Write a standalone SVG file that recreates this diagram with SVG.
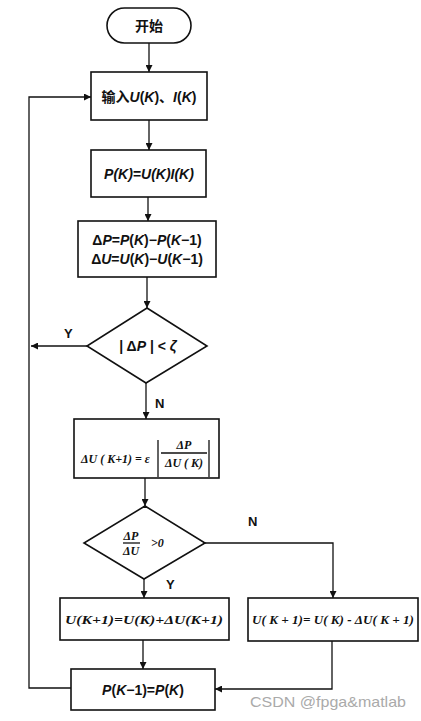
<svg xmlns="http://www.w3.org/2000/svg" width="421" height="721" viewBox="0 0 421 721">
<defs>
<marker id="ah" viewBox="0 0 10 10" refX="10" refY="5" markerWidth="7" markerHeight="7" markerUnits="userSpaceOnUse" orient="auto">
<path d="M0,0 L10,5 L0,10 z" fill="#111"/>
</marker>
</defs>
<style>
.box{fill:#fff;stroke:#111;stroke-width:1.6}
.ln{fill:none;stroke:#111;stroke-width:1.3}
.arr{fill:none;stroke:#111;stroke-width:1.3;marker-end:url(#ah)}
.t{font-family:"Liberation Sans","Noto Sans CJK SC",sans-serif;font-weight:bold;font-size:14px;fill:#111;text-anchor:middle}
.ti{font-style:italic}
.m{font-family:"Liberation Serif","Noto Sans CJK SC",serif;font-weight:bold;font-style:italic;font-size:12px;fill:#111}
.lbl{font-family:"Liberation Sans",sans-serif;font-weight:bold;font-size:13px;fill:#111}
</style>
<rect width="421" height="721" fill="#fff"/>
<g id="connectors">
<path class="arr" d="M149,43 V72"/>
<path class="arr" d="M149,120 V150"/>
<path class="arr" d="M148,197 V221"/>
<path class="arr" d="M147,277 V308"/>
<path class="arr" d="M87,346 H31"/>
<path class="arr" d="M146,383 V419"/>
<path class="arr" d="M145,478 V506"/>
<path class="arr" d="M205,543 H333 V598"/>
<path class="arr" d="M144,579 V598"/>
<path class="arr" d="M143,640 V669"/>
<path class="arr" d="M332,641 V689 H215"/>
<path class="arr" d="M71,688 H29 V97 H91"/>
<text class="lbl" x="64" y="338">Y</text>
<text class="lbl" x="155" y="408">N</text>
<text class="lbl" x="248" y="526">N</text>
<text class="lbl" x="166" y="589">Y</text>
</g>
<g id="start">
<rect class="box" x="107" y="8" width="84" height="35" rx="17.5"/>
<text class="t" x="149" y="31">开始</text>
</g>
<g id="input">
<rect class="box" x="91" y="72" width="116" height="48"/>
<text class="t" x="149" y="102">输入<tspan class="ti">U</tspan>(<tspan class="ti">K</tspan>)、<tspan class="ti">I</tspan>(<tspan class="ti">K</tspan>)</text>
</g>
<g id="power">
<rect class="box" x="91" y="150" width="115" height="47"/>
<text class="t ti" x="149" y="179">P(K)=U(K)I(K)</text>
</g>
<g id="delta">
<rect class="box" x="78" y="221" width="138" height="56"/>
<text class="t" x="147" y="245">Δ<tspan class="ti">P</tspan>=<tspan class="ti">P</tspan>(<tspan class="ti">K</tspan>)−<tspan class="ti">P</tspan>(<tspan class="ti">K</tspan>−1)</text>
<text class="t" x="147" y="264">Δ<tspan class="ti">U</tspan>=<tspan class="ti">U</tspan>(<tspan class="ti">K</tspan>)−<tspan class="ti">U</tspan>(<tspan class="ti">K</tspan>−1)</text>
</g>
<g id="cond1">
<polygon class="box" points="147,308 207,346 146,383 87,346"/>
<text class="t" x="148" y="351" font-weight="normal">| Δ<tspan class="ti" font-weight="bold">P</tspan> | &lt; <tspan class="ti">ζ</tspan></text>
</g>
<g id="step">
<rect class="box" x="74" y="419" width="145" height="59"/>
<text class="m" x="81" y="463" font-size="11">ΔU ( K+1) = ε</text>
<path class="ln" d="M158,440 V477 M209,440 V477 M161,453 H207"/>
<text class="m" x="184" y="449" font-size="10" text-anchor="middle">ΔP</text>
<text class="m" x="184" y="467" font-size="10" text-anchor="middle">ΔU ( K)</text>
</g>
<g id="cond2">
<polygon class="box" points="145,506 205,543 144,579 84,543"/>
<text class="m" x="131" y="540" font-family="Liberation Sans" font-size="12" text-anchor="middle">ΔP</text>
<path class="ln" d="M123,543 H140"/>
<text class="m" x="131" y="555" font-family="Liberation Sans" font-size="12" text-anchor="middle">ΔU</text>
<text class="m" x="151" y="547" font-family="Liberation Sans" font-style="normal" font-size="13">&gt;0</text>
</g>
<g id="inc">
<rect class="box" x="60" y="598" width="169" height="42"/>
<text class="m" x="144" y="624" text-anchor="middle" textLength="158" lengthAdjust="spacingAndGlyphs">U(K+1)=U(K)+ΔU(K+1)</text>
</g>
<g id="dec">
<rect class="box" x="248" y="598" width="170" height="43"/>
<text class="m" x="333" y="624" text-anchor="middle" font-weight="normal" textLength="162" lengthAdjust="spacingAndGlyphs">U( K + 1)= U( K) - ΔU( K + 1)</text>
</g>
<g id="update">
<rect class="box" x="71" y="669" width="144" height="41"/>
<text class="t" x="143" y="695" font-size="15"><tspan class="ti">P</tspan>(<tspan class="ti">K</tspan>−1)=<tspan class="ti">P</tspan>(<tspan class="ti">K</tspan>)</text>
</g>
<text x="250" y="707" font-family="Liberation Sans,sans-serif" font-size="15" fill="#aaa" textLength="156" lengthAdjust="spacingAndGlyphs">CSDN @fpga&amp;matlab</text>
</svg>
